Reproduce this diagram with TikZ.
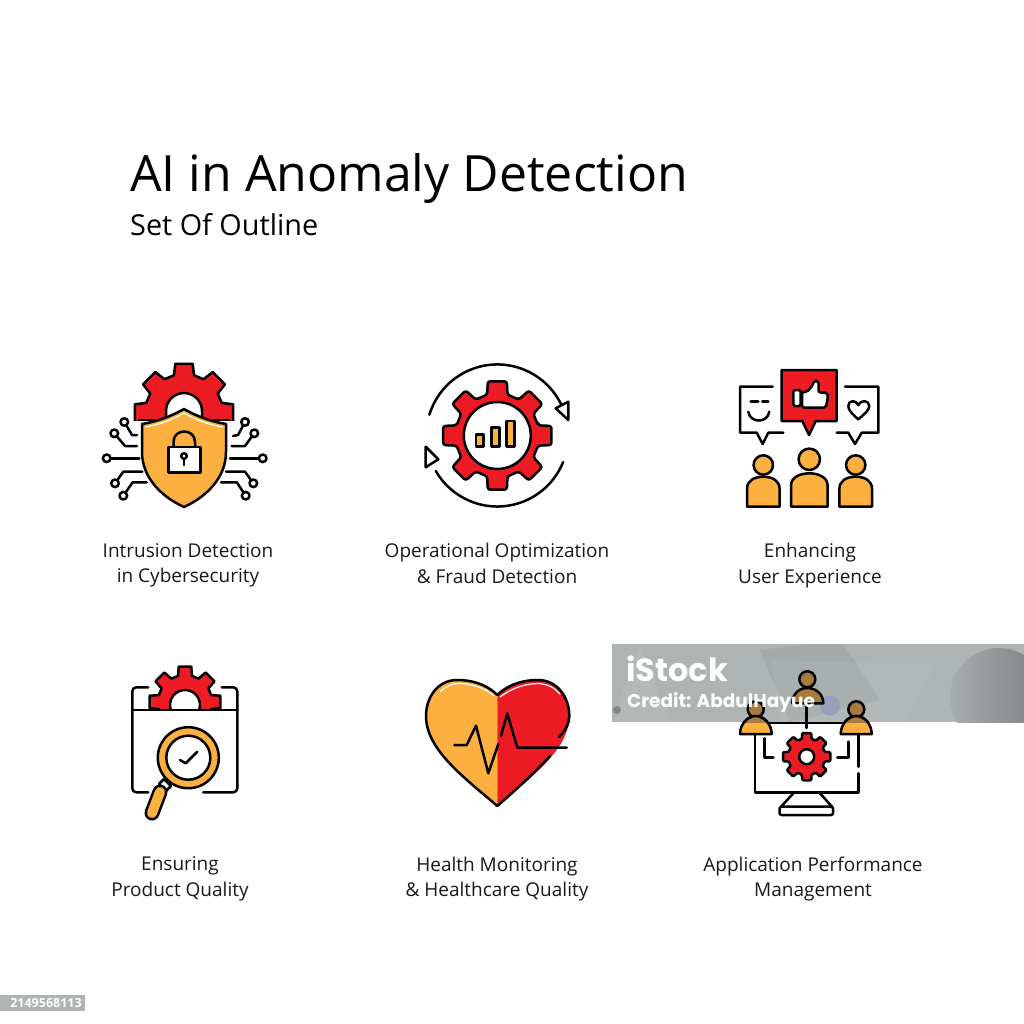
\documentclass[tikz,border=0pt]{standalone}
\usepackage{fontspec}
\setmainfont{Open Sans}
\newfontfamily\markfont{Poppins}
\definecolor{gearred}{HTML}{ED1C24}
\definecolor{softorange}{HTML}{FBB040}
\definecolor{bandorange}{HTML}{A87A3C}
\definecolor{bandgrey}{HTML}{AEB3B3}
\tikzset{
  ink/.style={draw=black,line width=2.5pt,line join=round,line cap=round},
  redfill/.style={ink,fill=gearred},
  orangefill/.style={ink,fill=softorange},
  whitefill/.style={ink,fill=white},
  shine/.style={draw=white,line width=1.2pt,line cap=round},
  caption/.style={align=center,font=\fontsize{19}{25.4}\selectfont,text=black!90,inner sep=0pt,
    execute at begin node=\strut,execute at end node=\strut},
}
\newcommand{\gearpath}[5]{% teeth, tip radius, root radius, tip and root half angle
  ({-#5}:#3) \foreach \k in {1,...,#1} {
    -- ({(\k-1)*360/#1-#5}:#3) -- ({(\k-1)*360/#1-#4}:#2) -- ({(\k-1)*360/#1+#4}:#2) -- ({(\k-1)*360/#1+#5}:#3)
  } -- cycle}
\newcommand{\personshape}[6]{% x, head y, head radius, half width, bottom y, body height
  \draw[orangefill] (#1,#2) circle (#3);
  \draw[orangefill] ({#1-#4},#5) -- ({#1-#4},{#5-#6+12}) .. controls ({#1-#4},{#5-#6+4}) and ({#1-9},{#5-#6}) .. (#1,{#5-#6}) .. controls ({#1+9},{#5-#6}) and ({#1+#4},{#5-#6+4}) .. ({#1+#4},{#5-#6+12}) -- ({#1+#4},#5) -- cycle;}
\begin{document}
\begin{tikzpicture}[x=1pt,y=-1pt]
  \useasboundingbox (0,0) rectangle (1024,1024);
  \fill[white] (0,0) rectangle (1024,1024);
  \node[anchor=base west,inner sep=0pt,font=\fontsize{50}{52}\selectfont] (title) at (130,192) {AI in Anomaly Detection};
  \node[anchor=base west,inner sep=0pt,font=\fontsize{28.8}{30}\selectfont] (subtitle) at (130,236) {Set Of Outline};

  % shield
  \begin{scope}
    \clip (120,355) rectangle (250,420);
    \begin{scope}[shift={(184,413)}]
      \draw[redfill] \gearpath{8}{50}{39}{10}{15};
    \end{scope}
  \end{scope}
  \draw[ink] (139,420) -- (229,420);
  \begin{scope}[shift={(184,411)}]
    \fill[white] (-18,10) -- (-18,0) arc (180:360:18) -- (18,10) -- cycle;
    \draw[ink] (-18,8) -- (-18,0) arc (-180:0:18) -- (18,8);
  \end{scope}
  \draw[orangefill] (184,409) .. controls (170,417) and (155,422) .. (142,424) -- (142,452) .. controls (142,478) and (162,497) .. (184,507) .. controls (206,497) and (226,478) .. (226,452) -- (226,424) .. controls (213,422) and (198,417) .. (184,409) -- cycle;
  \draw[shine] (145.5,427) .. controls (158,425) and (172,420) .. (184,413) .. controls (196,420) and (210,425) .. (222.5,427);
  \draw[whitefill] (168.5,447) rectangle (200.5,472.5);
  \draw[ink] (173.5,447) -- (173.5,442) .. controls (173.5,428) and (195,428) .. (195,442) -- (195,447);
  \draw[ink] (184,456) circle (2.8);
  \draw[ink] (184,459) -- (184,465);
  \foreach \cx/\cy/\mx/\my/\ex/\ey in {124.3/422/132/435/137/435,114.3/433.3/125/446/137/446,106.7/458.3/120/458.3/139.3/458.3,115/483.3/123.3/471.7/142.3/471.7,123.3/495.7/132.7/482.3/146.7/482.3,245/422/238/435/233/436,254.3/433.3/245/446/231.7/446,262.7/458.3/250/458.3/230/458.3,253.3/483.3/245/471.7/226/471.7,245.7/495.7/236.7/482.3/221/482.3}{
    \draw[ink] (\cx,\cy) circle (3.8);
    \draw[ink,shorten <=3.8pt] (\cx,\cy) -- (\mx,\my) -- (\ex,\ey);
  }

  % gear with chart
  \begin{scope}[shift={(497.3,435.5)}]
    \draw[redfill,rounded corners=2.5pt] \gearpath{8}{55}{42}{10}{14};
    \draw[whitefill] (0,0) circle (33.5);
    \draw[ink] (-67.9,-20.8) arc (-163:-24:71);
    \draw[ink] (65.8,26.6) arc (22:150:71);
  \end{scope}
  \draw[orangefill] (476,434.7) rectangle (483.3,446.7);
  \draw[orangefill] (491.7,427.3) rectangle (499.3,446.7);
  \draw[orangefill] (506.7,421) rectangle (514.3,446.7);
  \draw[whitefill] (555.7,408.3) -- (568.3,401.7) -- (568.3,420) -- cycle;
  \draw[whitefill] (425.7,446.7) -- (438.3,459.3) -- (425.7,467.3) -- cycle;

  % speech bubbles
  \draw[ink] (772.7,386.7) -- (740,386.7) -- (740,432.7) -- (756.7,432.7) -- (762.7,444) -- (768.3,432.7) -- (783.3,432.7);
  \draw[ink] (845,386.7) -- (878.3,386.7) -- (878.3,432.7) -- (861.7,432.7) -- (855,444) -- (848.3,432.7) -- (836.7,432.7);
  \draw[redfill] (781.7,370) -- (836.7,370) -- (836.7,421) -- (815.7,421) -- (809,435) -- (802.3,421) -- (781.7,421) -- cycle;
  \draw[ink] (750.7,401.7) -- (758.3,401.7);
  \draw[ink] (762.3,401.7) -- (768.3,401.7);
  \draw[ink] (748.3,411.7) .. controls (750,423.5) and (767.5,423.5) .. (769.3,411.7);
  \draw[ink] (858.3,419.3) .. controls (852,414) and (848.3,410) .. (848.3,406) .. controls (848.3,400) and (856,399.5) .. (858.3,405) .. controls (860.5,399.5) and (869.3,400) .. (869.3,406) .. controls (869.3,410) and (864.5,414) .. (858.3,419.3) -- cycle;
  \draw[whitefill,rounded corners=1.5pt] (793.3,390) rectangle (800.7,406);
  \draw[whitefill,rounded corners=2pt] (802,392) -- (807,392) -- (813,385) -- (814,380.5) -- (818.5,381) -- (818.5,392.5) -- (827,392.5) -- (828,396) -- (826,407.5) -- (802,407.5) -- cycle;
  \personshape{763.3}{465}{9.7}{16.3}{506.7}{30}
  \personshape{809.3}{459.3}{10.7}{18.3}{506.7}{33.4}
  \personshape{855.7}{465}{9.7}{16.3}{506.7}{30}

  % calendar with magnifier
  \begin{scope}
    \clip (140,655) rectangle (230,710);
    \begin{scope}[shift={(185,702)}]
      \draw[redfill] \gearpath{8}{36}{27}{10}{15};
      \fill[white] (0,3) circle (15);
      \draw[ink] (0,3) circle (15);
    \end{scope}
  \end{scope}
  \draw[ink,rounded corners=4pt] (148.3,687.3) -- (132.3,687.3) -- (132.3,792.3) -- (148.3,792.3);
  \draw[ink,rounded corners=4pt] (221.7,687.3) -- (237.3,687.3) -- (237.3,792.3) -- (203.3,792.3);
  \draw[ink] (132.3,710) -- (237.3,710);
  \draw[whitefill] (164,779) -- (171,786) -- (166,791) -- (159,784) -- cycle;
  \draw[black,line width=15pt,line cap=round] (160,792) -- (152,813);
  \draw[softorange,line width=10pt,line cap=round] (160,792) -- (152,813);
  \draw[orangefill] (188.3,757.7) circle (30.5);
  \draw[whitefill] (188.3,757.7) circle (22);
  \draw[ink] (180,760) -- (185.7,763.3) -- (197.3,751.7);

  % heart
  \path[fill=softorange] (497.3,695) .. controls (485,683) and (470,680) .. (457,680) .. controls (438,680) and (426,697) .. (426,716) .. controls (426,750) and (465,778) .. (497.3,806) -- cycle;
  \path[fill=gearred] (497.3,695) .. controls (510,683) and (525,680) .. (538,680) .. controls (557,680) and (569.3,697) .. (569.3,716) .. controls (569.3,750) and (530,778) .. (497.3,806) -- cycle;
  \draw[shine] (440,692) .. controls (446,686) and (452,684) .. (458,683.5) .. controls (470,683.5) and (484,687) .. (494,696);
  \draw[shine] (500,697) .. controls (512,688) and (524,684) .. (538,683.5) .. controls (548,684) and (555,688) .. (560,694);
  \draw[ink] (497.3,695) .. controls (485,683) and (470,680) .. (457,680) .. controls (438,680) and (426,697) .. (426,716) .. controls (426,750) and (465,778) .. (497.3,806) .. controls (510,795) and (538,770) .. (550,756);
  \draw[ink] (559,737) .. controls (566,730) and (569.3,723) .. (569.3,716) .. controls (569.3,697) and (557,680) .. (538,680) .. controls (525,680) and (510,683) .. (497.3,695);
  \draw[ink] (454.3,745) -- (466.7,745) -- (476,725.7) -- (488.3,773.3) -- (498.3,744);
  \draw[ink] (501,735.7) -- (507.3,713.3) -- (517.3,747.7) -- (566.7,747.7);

  % monitor
  \draw[ink] (755,734) -- (755,792.3) -- (858.7,792.3) -- (858.7,773.3);
  \draw[ink] (858.7,766.7) -- (858.7,734);
  \draw[ink] (755,722.7) -- (858.7,722.7);
  \draw[ink] (806.7,703) -- (806.7,728);
  \draw[ink] (764.3,738.3) -- (764.3,757.3) -- (773.3,757.3);
  \draw[ink] (848.3,741.7) -- (848.3,757.3) -- (837.3,757.3);
  \begin{scope}[shift={(806.7,756.7)}]
    \draw[redfill,rounded corners=1pt] \gearpath{8}{24}{18.5}{11}{15};
    \draw[whitefill] (0,0) circle (7.5);
  \end{scope}
  \draw[ink] (793.3,793.3) -- (781,806.7);
  \draw[ink] (820,793.3) -- (832,806.7);
  \draw[ink,rounded corners=2pt] (779.5,806.7) rectangle (833,815);

  % watermark band
  \fill[bandgrey] (612,644) rectangle (1024,722);
  \begin{scope}
    \clip (612,644) rectangle (1024,722);
    \fill[black!45!bandgrey,opacity=.12] (760,650) -- (840,640) -- (880,700) -- (790,722) -- cycle;
    \fill[white,opacity=.06] (770,660) -- (935,665) -- (905,722) -- (780,722) -- cycle;
    \fill[white,opacity=.07] (640,644) -- (670,722) -- (612,722) -- cycle;
    \shade[left color=black!4!bandgrey,middle color=green!8!black!4!bandgrey,right color=black!28!bandgrey] (999,697) circle (49);
    \fill[black!25!bandgrey] (617,710) circle (4);
    \fill[blue!12!bandgrey] (830,705.7) circle (10);
    \draw[ink,fill=bandorange] (807.3,679.3) circle (8);
    \draw[ink,fill=bandorange] (792.3,703.3) .. controls (792.3,694) and (799,688) .. (807.3,688) .. controls (815.6,688) and (823.3,694) .. (823.3,703.3) -- cycle;
    \draw[ink] (806.7,703) -- (806.7,722);
    \draw[ink,fill=bandorange] (755.7,709.3) circle (8);
    \draw[ink,fill=bandorange] (856.3,709.3) circle (8);
  \end{scope}
  \draw[orangefill] (740,734) .. controls (740,724) and (748,716) .. (755.7,716) .. controls (763.4,716) and (771.7,724) .. (771.7,734) -- cycle;
  \draw[orangefill] (840.7,734) .. controls (840.7,724) and (848.5,716) .. (856.3,716) .. controls (864,716) and (871.7,724) .. (871.7,734) -- cycle;
  \begin{scope}
    \clip (612,644) rectangle (1024,722);
    \draw[ink,fill=bandorange] (740,734) .. controls (740,724) and (748,716) .. (755.7,716) .. controls (763.4,716) and (771.7,724) .. (771.7,734) -- cycle;
    \draw[ink,fill=bandorange] (840.7,734) .. controls (840.7,724) and (848.5,716) .. (856.3,716) .. controls (864,716) and (871.7,724) .. (871.7,734) -- cycle;
  \end{scope}
  \node[anchor=base west,inner sep=0pt,text=white,font=\fontsize{32}{34}\markfont\bfseries] (stock) at (626,681) {iStock};
  \node[anchor=base west,inner sep=0pt,text=white,font=\fontsize{18.5}{20}\markfont\bfseries] (credit) at (627,707) {Credit: AbdulHayue};

  % captions
  \node[caption] (intrusion) at (188,567) {Intrusion Detection\\in Cybersecurity};
  \node[caption] (operational) at (497,567) {Operational Optimization\\\& Fraud Detection};
  \node[caption] (enhancing) at (810,567) {Enhancing\\User Experience};
  \node[caption] (ensuring) at (180,880.5) {Ensuring\\Product Quality};
  \node[caption] (health) at (497,880.5) {Health Monitoring\\\& Healthcare Quality};
  \node[caption] (application) at (813,880.5) {Application Performance\\Management};

  \fill[bandgrey] (0,995) rectangle (85,1011);
  \node[inner sep=0pt,text=white,font=\fontsize{12.5}{14}\selectfont\bfseries] (imageid) at (46,1003) {2149568113};
\end{tikzpicture}
\end{document}
